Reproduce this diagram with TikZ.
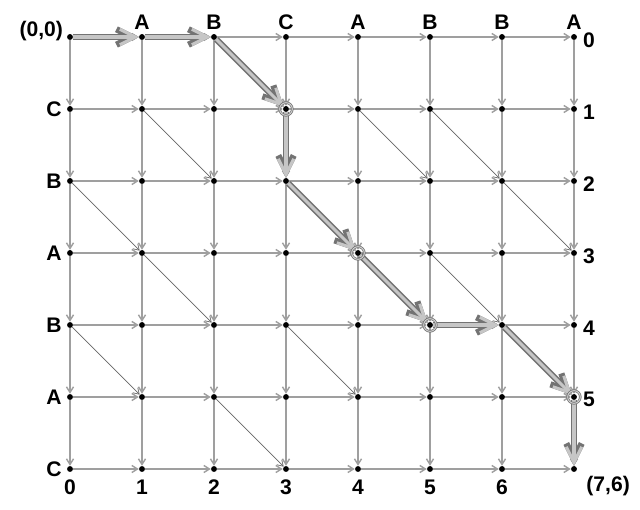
\documentclass[tikz,border=0pt]{standalone}
\usepackage{fontspec}
\setmainfont{Liberation Sans}
\usetikzlibrary{arrows.meta,positioning,backgrounds}

\begin{document}
\begin{tikzpicture}[x=0.025cm,y=-0.025cm]
	\tikzstyle{Dot}      = [circle,fill=black,inner sep=0pt,minimum size=4.2pt]
	\tikzstyle{Lbl}      = [font=\bfseries\fontsize{15}{17}\selectfont,inner sep=1pt]
	\tikzstyle{Edge}     = [draw=gray!75,line width=1pt,-{Straight Barb[length=4pt,width=5pt]}]
	\tikzstyle{Match}    = [draw=black!60,line width=0.5pt,-{Straight Barb[length=4pt,width=5pt]}]
	\tikzstyle{PathOut}  = [draw=black!55,line width=4.4pt,-{Straight Barb[length=11pt,width=11pt]}]
	\tikzstyle{PathIn}   = [draw=gray!45,line width=2.2pt,-{Straight Barb[length=11pt,width=11pt]}]
	\useasboundingbox (0,0) rectangle (640,510);

	% grid points
	\foreach \i in {0,...,6}
		\foreach \j in {0,...,7}
			\node[Dot] (n\i\j) at ({70+72*\j},{37+72*\i}) {};

	\begin{scope}[on background layer]
		\foreach \i in {0,...,6}
			\foreach \j [count=\k] in {0,...,6}
				\draw[Edge] (n\i\j) -- (n\i\k);
		\foreach \i [count=\k] in {0,...,5}
			\foreach \j in {0,...,7}
				\draw[Edge] (n\i\j) -- (n\k\j);
		% matching letters
		\foreach \a/\b in {02/13,11/22,14/25,15/26,20/31,23/34,26/37,31/42,34/45,35/46,40/51,43/54,46/57,52/63}
			\draw[Match] (n\a) -- (n\b);
		% best path
		\foreach \a/\b in {00/01,01/02,02/13,13/23,23/34,34/45,45/46,46/57,57/67}
			\draw[PathOut] (n\a) -- (n\b);
		\foreach \a/\b in {00/01,01/02,02/13,13/23,23/34,34/45,45/46,46/57,57/67}
			\draw[PathIn] (n\a) -- (n\b);
		\foreach \a in {13,34,45,57} {
			\draw[black!55,line width=1.8pt] (n\a) circle (4.5pt);
			\draw[gray!35,line width=0.7pt] (n\a) circle (4.5pt);
		}
	\end{scope}

	% labels
	\foreach \c [count=\j] in {A,B,C,A,B,B,A}
		\node[Lbl,above=2pt of n0\j] {\c};
	\foreach \c [count=\i] in {C,B,A,B,A,C}
		\node[Lbl,left=2.5pt of n\i0] {\c};
	\foreach \i in {0,...,5}
		\node[Lbl,right=3pt of n\i7,yshift=-2pt] {\i};
	\foreach \j in {0,...,6}
		\node[Lbl,below=4pt of n6\j] {\j};
	\node[Lbl,left=1.5pt of n00,yshift=4pt] (start) {(0,0)};
	\node[Lbl,below right=2pt and 6pt of n67] (end) {(7,6)};
\end{tikzpicture}
\end{document}
